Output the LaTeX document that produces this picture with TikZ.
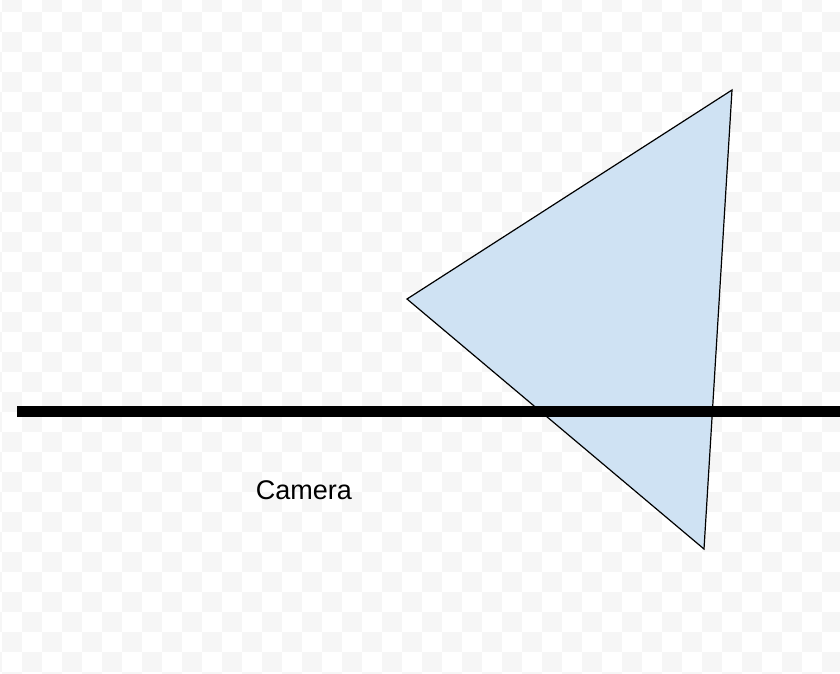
\documentclass[tikz,border=0pt]{standalone}
\usepackage{fontspec}
\setmainfont{Liberation Sans}
\definecolor{checker}{HTML}{F6F6F6}
\definecolor{trifill}{HTML}{CFE2F3}
\tikzset{
  tri/.style={draw=black, line width=1.2pt, fill=trifill, line join=miter},
  camline/.style={draw=black, line width=11pt},
  lbl/.style={font=\fontsize{27pt}{30pt}\selectfont, inner sep=0pt}
}
\begin{document}
\begin{tikzpicture}[x=1pt,y=-1pt]
\useasboundingbox (0,0) rectangle (840,673);
\fill[white] (0,0) rectangle (840,673);
% checkerboard background
\foreach \i in {-1,...,33}{
  \foreach \j in {-1,...,42}{
    \pgfmathtruncatemacro{\s}{mod(\i+\j+100,2)}
    \ifnum\s=1
      \fill[checker] ({2+20*\j},{12+20*\i}) rectangle ++(20,20);
    \fi
  }
}
\coordinate (A) at (732,90);
\coordinate (B) at (407,299);
\coordinate (C) at (704,549);
\filldraw[tri] (A) -- (B) -- (C) -- cycle;
\coordinate (L1) at (17,411);
\coordinate (L2) at (840,411);
\draw[camline] (L1) -- (L2);
\node[lbl] (cam) at (304,490) {Camera};
\end{tikzpicture}
\end{document}
